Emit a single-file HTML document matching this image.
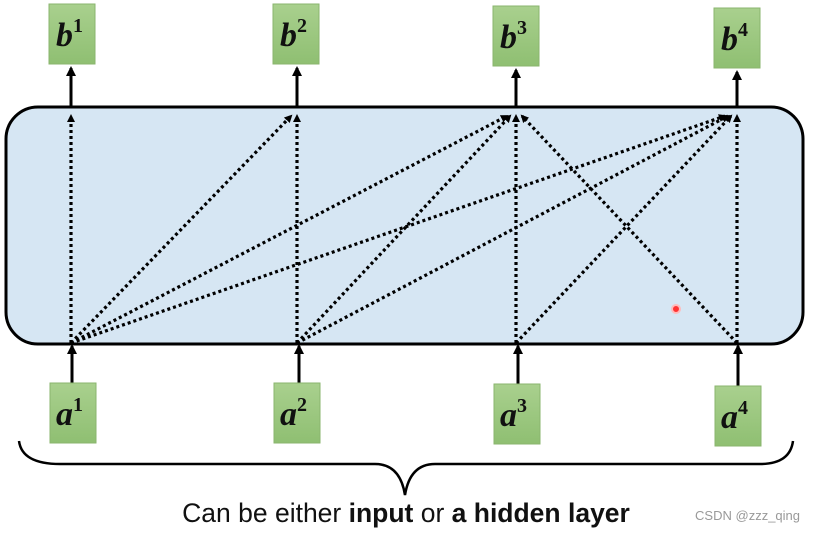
<!DOCTYPE html>
<html><head><meta charset="utf-8"><style>
body{margin:0;background:#fff;width:816px;height:532px;overflow:hidden;font-family:"Liberation Serif",serif}
</style></head><body>
<svg width="816" height="532" viewBox="0 0 816 532" xmlns="http://www.w3.org/2000/svg">
<defs>
<marker id="ah" markerWidth="8" markerHeight="8" refX="6" refY="4" orient="auto" markerUnits="userSpaceOnUse"><path d="M0,0 L8,4 L0,8 Z" fill="#000"/></marker>
<marker id="sh" markerWidth="10" markerHeight="10" refX="8" refY="5" orient="auto" markerUnits="userSpaceOnUse"><path d="M0,0 L10,5 L0,10 Z" fill="#000"/></marker>
<linearGradient id="g" x1="0" y1="0" x2="0" y2="1"><stop offset="0" stop-color="#a9d08e"/><stop offset="1" stop-color="#8fbf72"/></linearGradient>
</defs>
<rect x="6" y="107" width="797" height="237" rx="32" fill="#d6e6f3" stroke="#000" stroke-width="3"/>
<g stroke="#000" stroke-width="3.2" stroke-dasharray="3 3" marker-end="url(#ah)" fill="none">
<line x1="71" y1="343" x2="71" y2="116"/>
<line x1="71" y1="343" x2="291" y2="116"/>
<line x1="71" y1="343" x2="507" y2="116"/>
<line x1="71" y1="343" x2="725" y2="116"/>
<line x1="297" y1="343" x2="297" y2="116"/>
<line x1="297" y1="343" x2="510" y2="116"/>
<line x1="297" y1="343" x2="728" y2="116"/>
<line x1="516" y1="343" x2="516" y2="116"/>
<line x1="516" y1="343" x2="731" y2="116"/>
<line x1="737" y1="343" x2="522" y2="116"/>
<line x1="737" y1="343" x2="737" y2="116"/>
</g>
<g stroke="#000" stroke-width="3" marker-end="url(#sh)">
<line x1="71" y1="106" x2="71" y2="68"/>
<line x1="297" y1="106" x2="297" y2="68"/>
<line x1="516" y1="106" x2="516" y2="70"/>
<line x1="737" y1="106" x2="737" y2="72"/>
<line x1="72" y1="383" x2="72" y2="346"/>
<line x1="299" y1="383" x2="299" y2="346"/>
<line x1="518" y1="384" x2="518" y2="346"/>
<line x1="738" y1="386" x2="738" y2="346"/>
</g>
<g fill="url(#g)" stroke="#8ab56e" stroke-width="1">
<rect x="49" y="4" width="46" height="60"/><rect x="273" y="4" width="46" height="60"/>
<rect x="493" y="6" width="46" height="60"/><rect x="714" y="8" width="46" height="60"/>
<rect x="50" y="383" width="46" height="60"/><rect x="274" y="383" width="46" height="60"/>
<rect x="494" y="384" width="46" height="60"/><rect x="715" y="386" width="46" height="60"/>
</g>
<g font-family="Liberation Serif,serif" font-weight="bold" font-style="italic" font-size="34" fill="#111">
<text x="56" y="46">b<tspan font-style="normal" font-size="20" dy="-14">1</tspan></text>
<text x="280" y="46">b<tspan font-style="normal" font-size="20" dy="-14">2</tspan></text>
<text x="500" y="48">b<tspan font-style="normal" font-size="20" dy="-14">3</tspan></text>
<text x="721" y="50">b<tspan font-style="normal" font-size="20" dy="-14">4</tspan></text>
<text x="56" y="425">a<tspan font-style="normal" font-size="20" dy="-14">1</tspan></text>
<text x="280" y="425">a<tspan font-style="normal" font-size="20" dy="-14">2</tspan></text>
<text x="500" y="426">a<tspan font-style="normal" font-size="20" dy="-14">3</tspan></text>
<text x="721" y="428">a<tspan font-style="normal" font-size="20" dy="-14">4</tspan></text>
</g>
<circle cx="676" cy="309" r="4" fill="#f33" stroke="#fbb" stroke-width="2"/>
<path d="M19,441 Q22,464 60,464 L375,464 Q400,464 405,495 Q410,464 435,464 L760,464 Q790,464 793,441" fill="none" stroke="#000" stroke-width="2.5"/>
<text x="406" y="522" text-anchor="middle" font-family="Liberation Sans,sans-serif" font-size="26.5" fill="#111">Can be either <tspan font-weight="bold">input</tspan> or <tspan font-weight="bold">a hidden layer</tspan></text>
<text x="800" y="520" text-anchor="end" font-family="Liberation Sans,sans-serif" font-size="13" fill="#999">CSDN @zzz_qing</text>
</svg>
</body></html>
